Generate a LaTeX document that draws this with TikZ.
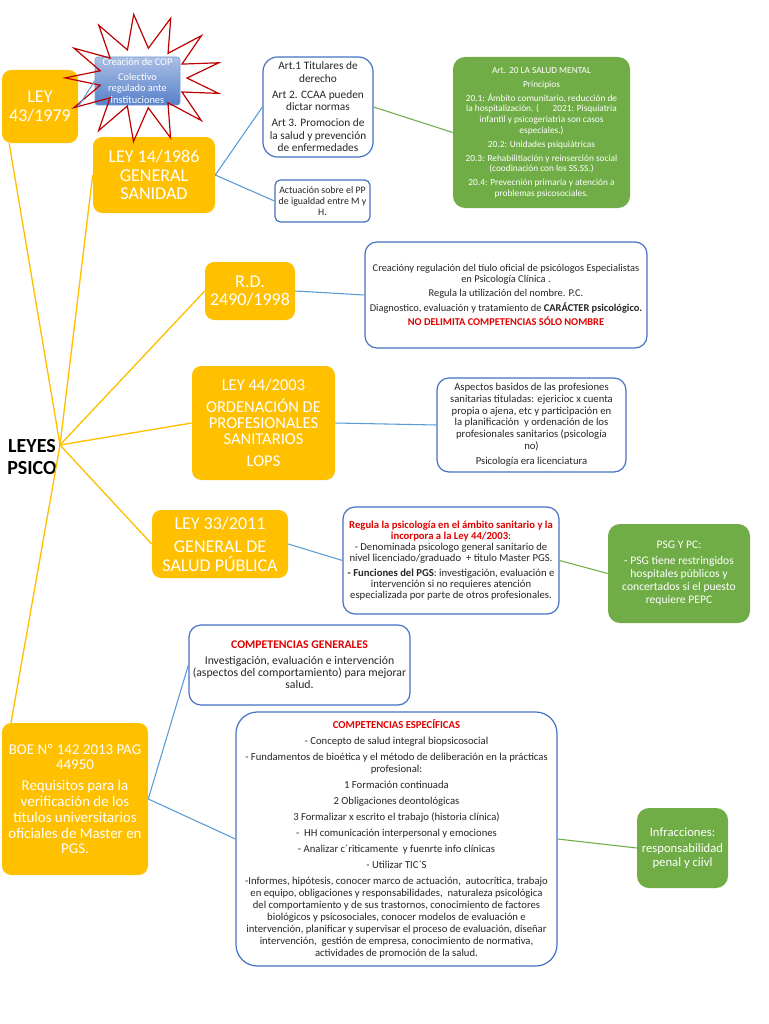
\documentclass[tikz,border=0pt]{standalone}
\usepackage{fontspec}
\setmainfont{Carlito}
\usetikzlibrary{positioning}

\definecolor{leyorange}{HTML}{FFC000}
\definecolor{lineblue}{HTML}{5B9BD5}
\definecolor{boxblue}{HTML}{4472C4}
\definecolor{mentalgreen}{HTML}{70AD47}
\definecolor{alertred}{HTML}{E00000}
\definecolor{textgray}{HTML}{262626}

\begin{document}
\begin{tikzpicture} [x=0.75pt, y=-0.75pt,
                    ley/.style={fill=leyorange, rounded corners=7pt, text=white, align=center,
                                inner sep=2pt, font=\fontsize{13.5}{13.75}\selectfont},
                    nota/.style={draw=boxblue, line width=0.9pt, fill=white, rounded corners=9pt,
                                 align=center, inner sep=2pt, text=textgray},
                    verde/.style={fill=mentalgreen, rounded corners=9pt, text=white, align=center, inner sep=2pt},
                    rama/.style={leyorange, line width=1pt},
                    enlace/.style={lineblue, line width=0.8pt},
                    enlaceverde/.style={mentalgreen, line width=0.8pt},
                    estrella/.style={draw=alertred!85!black, line width=0.9pt},
                    rojo/.style={text=alertred, font=\bfseries}]

\useasboundingbox[fill=white] (0,0) rectangle (768,1024);

% leyes
\node[ley, minimum width=57pt, minimum height=54.75pt] (ley43) at (40,106.5) {LEY\\ 43/1979};
\node[ley, minimum width=91.5pt, minimum height=57pt] (ley14) at (154,175) {LEY 14/1986\\ GENERAL\\ SANIDAD};
\node[ley, minimum width=67.5pt, minimum height=43.5pt] (rd) at (250,291) {R.D.\\ 2490/1998};
\node[ley, minimum width=107.25pt, minimum height=85.5pt, font=\fontsize{12.4}{12.2}\selectfont] (ley44) at (263.5,423)
  {LEY 44/2003\\[4pt] ORDENACIÓN DE\\ PROFESIONALES\\ SANITARIOS\\[4pt] LOPS};
\node[ley, minimum width=102pt, minimum height=51pt] (ley33) at (220,544) {LEY 33/2011\\[4pt] GENERAL DE\\ SALUD PÚBLICA};
\node[ley, minimum width=109.5pt, minimum height=114pt, font=\fontsize{11.2}{11.8}\selectfont] (boe) at (75,799)
  {BOE Nº 142 2013 PAG\\ 44950\\[4pt] Requisitos para la\\ verificación de los\\ títulos universitarios\\ oficiales de Master en\\ PGS.};

\node[font=\fontsize{15}{17}\selectfont\bfseries, align=center] (leyes) at (32,457) {LEYES\\ PSICO};
\coordinate (centro) at (60,445);

% colegio
\node[rounded corners=2pt, top color=boxblue!45!white, bottom color=boxblue!90!white, draw=boxblue!70!white,
      text=white, align=center, inner sep=1pt, minimum width=63.75pt, minimum height=36pt,
      font=\fontsize{7.8}{8.75}\selectfont] (cop) at (137.5,81)
  {Creación de COP\\[2pt] Colectivo\\ regulado ante\\ instituciones};
\draw[estrella] plot[samples at={0,...,25}, variable=\k]
  ({143+(mod(\k,2)==0 ? 78 : 44)*cos(\k*360/26+97)}, {78+(mod(\k,2)==0 ? 64 : 30)*sin(\k*360/26+97)}) -- cycle;

% notas
\node[nota, rounded corners=11pt, minimum width=82.5pt, minimum height=75pt, font=\fontsize{8.5}{9.4}\selectfont] (arts) at (318,107)
  {Art.1 Titulares de\\ derecho\\[2.5pt] Art 2. CCAA pueden\\ dictar normas\\[2.5pt] Art 3. Promocion de\\ la salud y prevención\\ de enfermedades};
\node[nota, rounded corners=4pt, minimum width=71.25pt, minimum height=31.5pt, font=\fontsize{7.4}{8.4}\selectfont] (actuacion) at (322.5,201)
  {Actuación sobre el PP\\ de igualdad entre M y\\ H.};
\node[verde, minimum width=132.75pt, minimum height=113.25pt, font=\fontsize{7}{8}\selectfont] (saludmental) at (541.5,132.5)
  {Art. 20 LA SALUD MENTAL\\[2.5pt] Principios\\[2.5pt]
   20.1: Ámbito comunitario, reducción de\\ la hospitalización. (\quad\ \ 2021: Pisquiatria\\
   infantil y psicogeriatria son casos\\ especiales.)\\[2.5pt]
   20.2: Unidades psiquiátricas\\[2.5pt]
   20.3: Rehabilitiación y reinserción social\\ (coodinación con los SS.SS.)\\[2.5pt]
   20.4: Prevecnión primaria y atención a\\ problemas psicosociales.};
\node[nota, minimum width=211.5pt, minimum height=79.5pt, font=\fontsize{7.8}{8.4}\selectfont] (rdtexto) at (506,295)
  {Creacióny regulación del tíulo oficial de psicólogos Especialistas\\ en Psicología Clínica .\\[2.5pt]
   Regula la utilización del nombre. P.C.\\[2.5pt]
   Diagnostico, evaluación y tratamiento de \textbf{CARÁCTER psicológico.}\\[2.5pt]
   {\color{alertred}\bfseries NO DELIMITA COMPETENCIAS SÓLO NOMBRE}};
\node[nota, minimum width=141.75pt, minimum height=70.5pt, font=\fontsize{8}{8.75}\selectfont] (ley44texto) at (531.5,425)
  {Aspectos basidos de las profesiones\\ sanitarias tituladas: ejericioc x cuenta\\ propia o ajena, etc y participación en\\
   la planificación \ y ordenación de los\\ profesionales sanitarios (psicología\\ no)\\[3pt] Psicología era licenciatura};
\node[nota, minimum width=162pt, minimum height=80.25pt, font=\fontsize{8}{8.4}\selectfont] (ley33texto) at (451,560.5)
  {{\color{alertred}\bfseries Regula la psicología en el ámbito sanitario y la}\\
   {\color{alertred}\bfseries incorpora a la Ley 44/2003}:\\
   - Denominada psicologo general sanitario de\\ nivel licenciado/graduado \ + titulo Master PGS.\\[2.5pt]
   \textbf{- Funciones del PGS}: investigación, evaluación e\\ intervención si no requieres atención\\
   especializada por parte de otros profesionales.};
\node[verde, minimum width=106.5pt, minimum height=74.25pt, font=\fontsize{8.7}{9.8}\selectfont] (psg) at (679,573.5)
  {PSG Y PC:\\[2pt] - PSG tiene restringidos\\ hospitales públicos y\\ concertados si el puesto\\ requiere PEPC};
\node[nota, minimum width=165.75pt, minimum height=60pt, font=\fontsize{8.8}{9}\selectfont] (compgen) at (299.5,665)
  {{\color{alertred}\bfseries COMPETENCIAS GENERALES}\\[3pt]
   Investigación, evaluación e intervención\\ (aspectos del comportamiento) para mejorar\\ salud.};
\node[nota, rounded corners=16pt, minimum width=240.75pt, minimum height=190.5pt, font=\fontsize{8}{9}\selectfont] (compesp) at (396.5,839)
  {{\color{alertred}\bfseries COMPETENCIAS ESPECÍFICAS}\\[3pt]
   - Concepto de salud integral biopsicosocial\\[3pt]
   - Fundamentos de bioética y el método de deliberación en la prácticas\\ profesional:\\[3pt]
   1 Formación continuada\\[3pt]
   2 Obligaciones deontológicas\\[3pt]
   3 Formalizar x escrito el trabajo (historia clínica)\\[3pt]
   - \ HH comunicación interpersonal y emociones\\[3pt]
   - Analizar c´riticamente \ y fuenrte info clínicas\\[3pt]
   - Utilizar TIC\textasciigrave S\\[3pt]
   -Informes, hipótesis, conocer marco de actuación, \ autocrítica, trabajo\\
   en equipo, obligaciones y responsabilidades, \ naturaleza psicológica\\
   del comportamiento y de sus trastornos, conocimiento de factores\\
   biológicos y psicosociales, conocer modelos de evaluación e\\
   intervención, planificar y supervisar el proceso de evaluación, diseñar\\
   intervención, \ gestión de empresa, conocimiento de normativa,\\
   actividades de promoción de la salud.};
\node[verde, minimum width=68.25pt, minimum height=60pt, font=\fontsize{9.5}{10.5}\selectfont] (infracciones) at (682.5,848)
  {Infracciones:\\[2pt] responsabilidad\\ penal y ciivl};

% ramas
\draw[rama] (centro) -- (ley43.230);
\draw[rama] (centro) -- (ley14.west);
\draw[rama] (centro) -- (rd.west);
\draw[rama] (centro) -- (ley44.west);
\draw[rama] (centro) -- (ley33.west);
\draw[rama] (centro) -- (boe.130);

% enlaces
\draw[enlace] (ley43.east) -- (cop.west);
\draw[enlace] (ley14.east) -- (arts.west);
\draw[enlace] (ley14.east) -- (actuacion.west);
\draw[enlace] (rd.east) -- (rdtexto.west);
\draw[enlace] (ley44.east) -- (ley44texto.west);
\draw[enlace] (ley33.east) -- (ley33texto.west);
\draw[enlace] (boe.east) -- (compgen.west);
\draw[enlace] (boe.east) -- (compesp.west);
\draw[enlaceverde] (arts.east) -- (saludmental.west);
\draw[enlaceverde] (ley33texto.east) -- (psg.west);
\draw[enlaceverde] (compesp.east) -- (infracciones.west);
\end{tikzpicture}
\end{document}
